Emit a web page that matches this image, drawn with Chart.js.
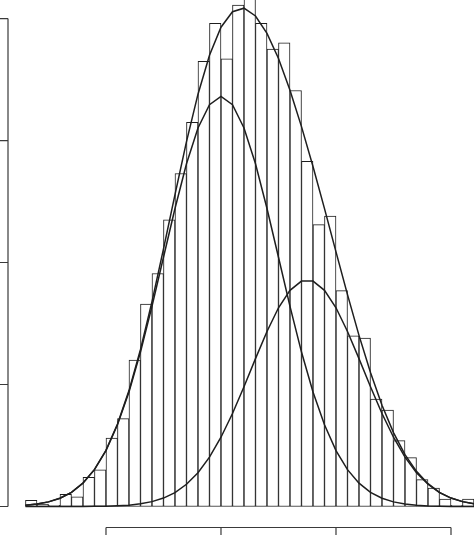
<!DOCTYPE html>
<html>
<head>
<meta charset="utf-8">
<title>Histogram with two-component mixture</title>
<script src="https://cdn.jsdelivr.net/npm/chart.js@4.4.1/dist/chart.umd.min.js"></script>
<style>
  html, body { margin: 0; padding: 0; background: #fff; }
  canvas { display: block; }
</style>
</head>
<body>
<canvas id="chart" width="474" height="535"></canvas>
<script>
// bin edges (40 edges -> 39 bins)
const binEdges = [0.3, 0.4, 0.5, 0.6, 0.7, 0.8, 0.9, 1.0, 1.1, 1.2,
                  1.3, 1.4, 1.5, 1.6, 1.7, 1.8, 1.9, 2.0, 2.1, 2.2,
                  2.3, 2.4, 2.5, 2.6, 2.7, 2.8, 2.9, 3.0, 3.1, 3.2,
                  3.3, 3.4, 3.5, 3.6, 3.7, 3.8, 3.9, 4.0, 4.1, 4.2];

// histogram counts per bin
const counts = [5, 2, 1, 10, 8, 24, 30, 56, 72, 120,
                166, 191, 235, 273, 315, 365, 396, 367, 411, 418,
                396, 375, 380, 341, 283, 231, 238, 177, 140, 138,
                88, 79, 54, 40, 22, 15, 6, 1, 6];

// fitted curves read at each bin edge
const component1 = [1.1, 2.0, 3.8, 6.8, 11.6, 19.1, 30.2, 45.8, 67.0, 93.9,
                    126.6, 164.0, 204.3, 244.3, 280.9, 310.3, 329.4, 336.1, 329.4, 310.3,
                    280.9, 244.3, 204.3, 164.0, 126.6, 93.9, 67.0, 45.8, 30.2, 19.1,
                    11.6, 6.8, 3.8, 2.0, 1.1, 0.5, 0.2, 0.1, 0.0, 0.0];
const component2 = [0.0, 0.0, 0.0, 0.0, 0.0, 0.1, 0.2, 0.3, 0.6, 1.1,
                    2.2, 4.0, 6.9, 11.4, 18.2, 27.7, 40.5, 56.8, 76.2, 98.2,
                    121.2, 143.5, 162.9, 177.2, 184.8, 184.8, 177.2, 162.9, 143.5, 121.2,
                    98.2, 76.2, 56.8, 40.5, 27.7, 18.2, 11.4, 6.9, 4.0, 2.2];
const mixture = [1.1, 2.0, 3.8, 6.8, 11.6, 19.2, 30.4, 46.1, 67.6, 95.0,
                 128.8, 168.0, 211.2, 255.7, 299.1, 338.0, 369.9, 392.9, 405.6, 408.5,
                 402.1, 387.8, 367.2, 341.2, 311.4, 278.7, 244.2, 208.7, 173.7, 140.3,
                 109.8, 83.0, 60.6, 42.5, 28.8, 18.7, 11.6, 6.9, 4.0, 2.2];

// axis ticks (labels fall outside the visible crop)
const xTicks = [1, 2, 3, 4];
const yTicks = [0, 100, 200, 300, 400];

const ink = '#1e1e1e';

const barData = counts.map((c, i) => ({ x: (binEdges[i] + binEdges[i + 1]) / 2, y: c }));
const curve = arr => arr.map((v, i) => ({ x: binEdges[i], y: v }));

// R-style detached axes, drawn from the chart's own scales
const rAxes = {
  id: 'rAxes',
  afterDraw(chart) {
    const { ctx, chartArea, scales: { x, y } } = chart;
    ctx.save();
    ctx.strokeStyle = '#3a3a3a';
    ctx.lineWidth = 1.2;
    ctx.beginPath();
    const ax = chartArea.left;
    ctx.moveTo(ax, y.getPixelForValue(yTicks[0]));
    ctx.lineTo(ax, y.getPixelForValue(yTicks[yTicks.length - 1]));
    yTicks.forEach(v => {
      const py = y.getPixelForValue(v);
      ctx.moveTo(ax, py);
      ctx.lineTo(ax - 10, py);
    });
    const ay = chartArea.bottom + 21;
    ctx.moveTo(x.getPixelForValue(xTicks[0]), ay);
    ctx.lineTo(x.getPixelForValue(xTicks[xTicks.length - 1]), ay);
    xTicks.forEach(v => {
      const px = x.getPixelForValue(v);
      ctx.moveTo(px, ay);
      ctx.lineTo(px, ay + 10);
    });
    ctx.stroke();
    ctx.restore();
  }
};

const lineStyle = {
  type: 'line',
  borderColor: ink,
  borderWidth: 1.5,
  pointRadius: 0,
  tension: 0,
  fill: false,
  clip: false,
  order: 1
};

new Chart(document.getElementById('chart').getContext('2d'), {
  type: 'bar',
  data: {
    datasets: [
      Object.assign({ label: 'mixture', data: curve(mixture) }, lineStyle),
      Object.assign({ label: 'component 1', data: curve(component1) }, lineStyle),
      Object.assign({ label: 'component 2', data: curve(component2) }, lineStyle),
      {
        type: 'bar',
        label: 'counts',
        data: barData,
        backgroundColor: '#ffffff',
        borderColor: ink,
        borderWidth: 1,
        borderSkipped: false,
        barPercentage: 1,
        categoryPercentage: 1,
        clip: false,
        order: 2
      }
    ]
  },
  options: {
    responsive: false,
    animation: false,
    devicePixelRatio: 1,
    layout: { padding: { left: 8, right: 0, top: 0, bottom: 28.5 } },
    scales: {
      x: { type: 'linear', min: 0.148, max: 4.2, offset: false, display: false, grid: { offset: false } },
      y: { min: 0, max: 415.2, display: false }
    },
    plugins: {
      legend: { display: false },
      tooltip: { enabled: false }
    }
  },
  plugins: [rAxes]
});
</script>
</body>
</html>
